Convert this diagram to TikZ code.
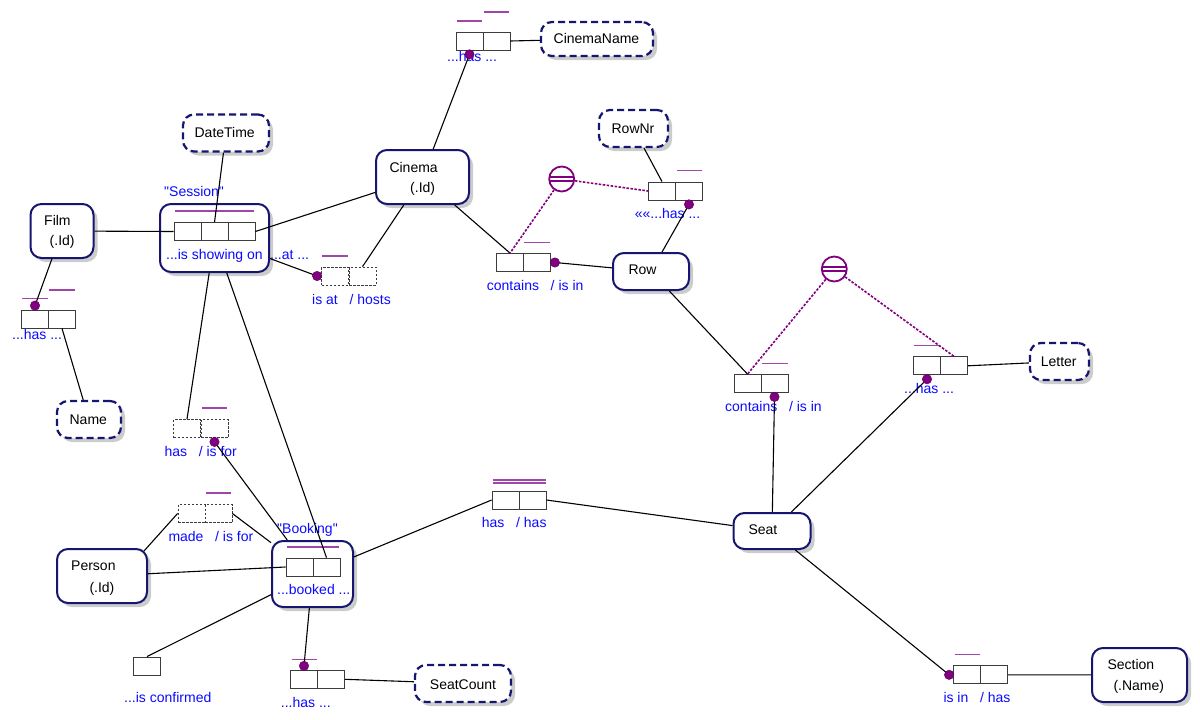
\documentclass[tikz,border=0pt]{standalone}
\usepackage{fontspec}
\setmainfont{Liberation Sans}[Ligatures=TeXOff]
\usetikzlibrary{shadows,calc}
\definecolor{navy}{RGB}{22,22,112}
\definecolor{ormpurple}{RGB}{128,0,128}
\definecolor{barpurple}{RGB}{160,70,170}
\definecolor{rolegray}{RGB}{60,60,60}
\definecolor{readblue}{RGB}{10,10,255}
\tikzset{
  entity/.style={draw=navy, line width=2pt, rounded corners=11pt, fill=white, inner sep=0pt,
     drop shadow={shadow xshift=4pt, shadow yshift=-4pt, fill=black!20, draw=none, opacity=1}},
  valtype/.style={entity, line width=2.2pt, dash pattern=on 7pt off 4pt},
  rolebox/.style={draw=rolegray, line width=0.8pt, fill=white, minimum width=27pt, minimum height=18pt, inner sep=0pt},
  derived/.style={rolebox, dash pattern=on 2.5pt off 1.5pt},
  conn/.style={draw=black, line width=1.1pt},
  dotc/.style={circle, fill=ormpurple, draw=ormpurple!70!black, line width=0.4pt, minimum size=9.5pt, inner sep=0pt},
  ubar/.style={draw=barpurple, line width=1.3pt},
  etext/.style={anchor=base west, inner sep=0pt, font=\fontsize{14pt}{16pt}\selectfont},
  vtext/.style={etext, anchor=base},
  rtext/.style={etext, text=readblue},
  eucircle/.style={circle, draw=ormpurple, line width=1.8pt, fill=white, minimum size=25pt, inner sep=0pt},
  eubar/.style={draw=ormpurple, line width=1.8pt},
  eulink/.style={draw=ormpurple, line width=1.6pt, dash pattern=on 2.5pt off 1.5pt},
}
\newcommand{\gap}{\hspace{11.7pt}}
\begin{document}
\begin{tikzpicture}[x=1pt,y=-1pt]
\useasboundingbox (0,0) rectangle (1200,720);

% ---------- entity types ----------
\node[entity, minimum width=63pt, minimum height=54pt] (film) at (62,231) {};
\node[etext] (filmA) at (44,225) {Film};
\node[etext] (filmB) at (49.5,245.5) {(.Id)};

\node[entity, minimum width=109pt, minimum height=68pt] (session) at (214.5,238) {};
\node[rtext] (sessionL) at (164,196.7) {"Session"};
\node[rtext] (sessionR) at (166,259) {...is showing on};

\node[entity, minimum width=93pt, minimum height=54pt] (cinema) at (422.5,177) {};
\node[etext] (cinemaA) at (389.3,172) {Cinema};
\node[etext] (cinemaB) at (410,192.5) {(.Id)};

\node[entity, minimum width=76pt, minimum height=37pt] (row) at (651,271.5) {};
\node[etext] (rowA) at (628.3,274.3) {Row};

\node[entity, minimum width=77pt, minimum height=36pt] (seat) at (772,531) {};
\node[etext] (seatA) at (748.3,534.3) {Seat};

\node[entity, minimum width=95pt, minimum height=54pt] (section) at (1139.5,675) {};
\node[etext] (sectionA) at (1107.3,669) {Section};
\node[etext] (sectionB) at (1113.3,690.5) {(.Name)};

\node[entity, minimum width=90pt, minimum height=54pt] (person) at (102,576) {};
\node[etext] (personA) at (71,570.7) {Person};
\node[etext] (personB) at (89.3,592) {(.Id)};

\node[entity, minimum width=81pt, minimum height=66pt] (booking) at (312.5,574) {};
\node[rtext] (bookingL) at (277,533.3) {"Booking"};
\node[rtext] (bookingR) at (277,594) {...booked ...};

% ---------- value types ----------
\node[valtype, minimum width=112pt, minimum height=34pt] (cinemaname) at (597,39) {};
\node[vtext] (cinemanameT) at (596.5,43.3) {CinemaName};
\node[valtype, minimum width=86pt, minimum height=37pt] (datetime) at (226,133) {};
\node[vtext] (datetimeT) at (224.7,137.7) {DateTime};
\node[valtype, minimum width=69pt, minimum height=37pt] (rownr) at (633.5,128.5) {};
\node[vtext] (rownrT) at (633,133.3) {RowNr};
\node[valtype, minimum width=64pt, minimum height=37pt] (name) at (89,419.5) {};
\node[vtext] (nameT) at (88.3,424.3) {Name};
\node[valtype, minimum width=59pt, minimum height=37pt] (letter) at (1059.5,361.5) {};
\node[vtext] (letterT) at (1058.7,366) {Letter};
\node[valtype, minimum width=96pt, minimum height=37pt] (seatcount) at (463,683.5) {};
\node[vtext] (seatcountT) at (463,689.3) {SeatCount};

% ---------- fact types (role boxes) ----------
% Cinema has CinemaName
\node[rolebox] (cn1) at (469.5,41) {};
\node[rolebox] (cn2) at (496.5,41) {};
\draw[ubar] (457,21) -- (482,21);
\draw[ubar] (484,12) -- (509,12);
\node[rtext] (cnT) at (447,61.7) {...has ...};

% Session objectified fact
\node[rolebox, minimum height=17.5pt] (s1) at (187.5,231.5) {};
\node[rolebox, minimum height=17.5pt] (s2) at (214.5,231.5) {};
\node[rolebox, minimum height=17.5pt] (s3) at (241.5,231.5) {};
\draw[ubar] (175,211) -- (254,211);
\node[rtext] (sAt) at (270,259) {...at ...};

% Session is at / hosts Cinema (derived)
\node[derived] (ia1) at (335,276) {};
\node[derived] (ia2) at (362.5,276) {};
\draw[ubar] (322,256) -- (348,256);
\node[rtext] (iaT) at (312,304) {is at\gap/ hosts};

% Film has Name
\node[rolebox] (fn1) at (35,319) {};
\node[rolebox] (fn2) at (62,319) {};
\draw[ubar] (22,298.7) -- (47.5,298.7);
\draw[ubar] (49,290) -- (74.5,290);
\node[rtext] (fnT) at (12,339.3) {...has ...};

% Session has / is for Booking (derived)
\node[derived] (sb1) at (187,428.5) {};
\node[derived] (sb2) at (214.5,428.5) {};
\draw[ubar] (202,408) -- (227,408);
\node[rtext] (sbT) at (164.3,456) {has\gap/ is for};

% Person made / is for Booking (derived)
\node[derived] (pm1) at (191.5,513.5) {};
\node[derived] (pm2) at (218.5,513.5) {};
\draw[ubar] (206,493) -- (231,493);
\node[rtext] (pmT) at (168.3,541) {made\gap/ is for};

% Booking objectified fact
\node[rolebox] (b1) at (299.5,567) {};
\node[rolebox] (b2) at (326.5,567) {};
\draw[ubar] (287,547) -- (339,547);

% Booking is confirmed
\node[rolebox] (cf) at (147,666) {};
\node[rtext] (cfT) at (124,702.3) {...is confirmed};

% Booking has SeatCount
\node[rolebox] (sc1) at (304,679.3) {};
\node[rolebox] (sc2) at (331,679.3) {};
\draw[ubar] (291.5,659.3) -- (316.5,659.3);
\node[rtext] (scT) at (280.7,707.3) {...has ...};

% Booking has / has Seat
\node[rolebox] (bs1) at (505.5,500) {};
\node[rolebox] (bs2) at (532.5,500) {};
\draw[ubar] (492.5,480) -- (545.5,480);
\draw[ubar] (492.5,483) -- (545.5,483);
\node[rtext] (bsT) at (481.7,527.3) {has\gap/ has};

% Cinema contains / is in Row
\node[rolebox] (cr1) at (510,262.5) {};
\node[rolebox] (cr2) at (537,262.5) {};
\draw[ubar] (524,242.3) -- (550,242.3);
\node[rtext] (crT) at (486.7,290.7) {contains\gap/ is in};

% Row has RowNr
\node[rolebox] (rn1) at (662,191) {};
\node[rolebox] (rn2) at (689,191) {};
\draw[ubar] (676.5,170.7) -- (702,170.7);
\node[rtext] (rnT) at (634.7,218.3) {««...has ...};

% Row contains / is in Seat
\node[rolebox] (rs1) at (747.5,383.5) {};
\node[rolebox] (rs2) at (774.5,383.5) {};
\draw[ubar] (761.5,363.3) -- (787.5,363.3);
\node[rtext] (rsT) at (725,411.7) {contains\gap/ is in};

% Seat has Letter
\node[rolebox] (lt1) at (927,365.8) {};
\node[rolebox] (lt2) at (954,365.8) {};
\draw[ubar] (914,345.7) -- (939.5,345.7);
\node[rtext] (ltT) at (904,393.3) {...has ...};

% Seat is in / has Section
\node[rolebox] (si1) at (967,674.8) {};
\node[rolebox] (si2) at (994,674.8) {};
\draw[ubar] (954.5,654.3) -- (980,654.3);
\node[rtext] (siT) at (943.3,702.7) {is in\gap/ has};

% ---------- connectors ----------
\draw[conn] (cinema) -- ($(cn1.south)+(0,4)$);
\draw[conn] (cn2.east) -- (cinemaname);
\draw[conn] (film) -- (s1.west);
\draw[conn] (datetime) -- (s2.north);
\draw[conn] (s3.east) -- (cinema);
\draw[conn] (session) -- ($(ia1.west)+(-4,0)$);
\draw[conn] (cinema) -- (ia2.north);
\draw[conn] (film) -- ($(fn1.north)+(0,-4)$);
\draw[conn] (fn2.south) -- (name);
\draw[conn] (session) -- (sb1.north);
\draw[conn] ($(sb2.south)+(0,4)$) -- (booking);
\draw[conn] (session) -- (b2.north);
\draw[conn] ($(person.north east)+(-4,3)$) -- (pm1.west);
\draw[conn] (pm2.east) -- (booking);
\draw[conn] (person) -- (b1.west);
\draw[conn] (cf.north) -- (booking);
\draw[conn] (booking) -- ($(sc1.north)+(0,-4)$);
\draw[conn] (sc2.east) -- (seatcount);
\draw[conn] (booking) -- (bs1.west);
\draw[conn] (bs2.east) -- (seat);
\draw[conn] (cinema) -- (cr1.north);
\draw[conn] ($(cr2.east)+(4,0)$) -- (row);
\draw[conn] (rownr) -- (rn1.north);
\draw[conn] (row) -- ($(rn2.south)+(0,4)$);
\draw[conn] (row) -- (rs1.north);
\draw[conn] (seat) -- ($(rs2.south)+(0,4)$);
\draw[conn] (seat) -- ($(lt1.south)+(0,4)$);
\draw[conn] (lt2.east) -- (letter);
\draw[conn] (seat) -- ($(si1.west)+(-4,0)$);
\draw[conn] (si2.east) -- (section);

% ---------- mandatory dots ----------
\node[dotc] (cnD) at ($(cn1.south)+(0,4)$) {};
\node[dotc] (iaD) at ($(ia1.west)+(-4,0)$) {};
\node[dotc] (fnD) at ($(fn1.north)+(0,-4)$) {};
\node[dotc] (sbD) at ($(sb2.south)+(0,4)$) {};
\node[dotc] (scD) at ($(sc1.north)+(0,-4)$) {};
\node[dotc] (crD) at ($(cr2.east)+(4,0)$) {};
\node[dotc] (rnD) at ($(rn2.south)+(0,4)$) {};
\node[dotc] (rsD) at ($(rs2.south)+(0,4)$) {};
\node[dotc] (ltD) at ($(lt1.south)+(0,4)$) {};
\node[dotc] (siD) at ($(si1.west)+(-4,0)$) {};

% ---------- external uniqueness constraints ----------
\node[eucircle] (eu1) at (561.7,179) {};
\draw[eulink] (eu1) -- (cr1.north);
\draw[eulink] (eu1) -- (rn1.west);
\draw[eubar] ($(eu1.center)+(-11.6,-2.3)$) -- ($(eu1.center)+(11.6,-2.3)$);
\draw[eubar] ($(eu1.center)+(-11.6,2.3)$) -- ($(eu1.center)+(11.6,2.3)$);

\node[eucircle] (eu2) at (834.3,269) {};
\draw[eulink] (eu2) -- (rs1.north);
\draw[eulink] (eu2) -- (lt2.north);
\draw[eubar] ($(eu2.center)+(-11.6,-2.3)$) -- ($(eu2.center)+(11.6,-2.3)$);
\draw[eubar] ($(eu2.center)+(-11.6,2.3)$) -- ($(eu2.center)+(11.6,2.3)$);
\end{tikzpicture}
\end{document}
